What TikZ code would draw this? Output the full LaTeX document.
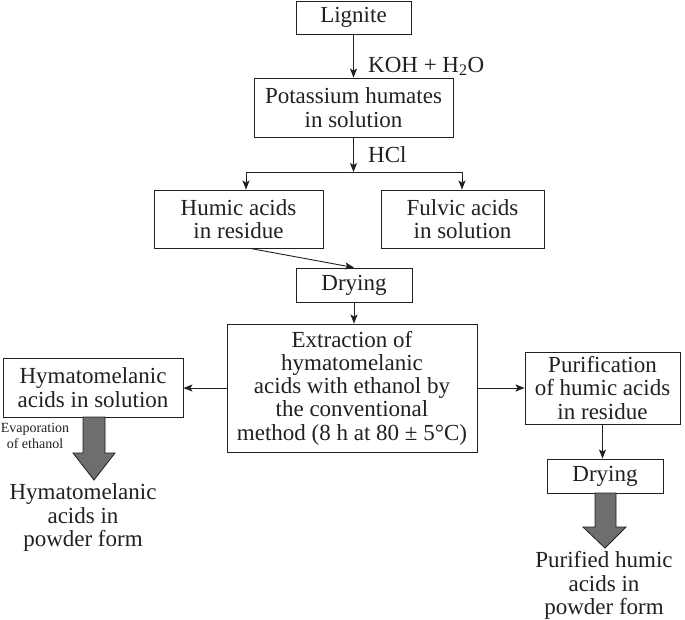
\documentclass[tikz,border=0pt]{standalone}
\usepackage{fontspec}
\setmainfont{Liberation Serif}
\usetikzlibrary{arrows.meta,calc}
\definecolor{ink}{HTML}{231F20}
\definecolor{blockgray}{HTML}{6E6E6E}
\begin{document}
\begin{tikzpicture}[x=1pt,y=-1pt,
  every node/.style={text=ink},
  box/.style={draw=ink,line width=0.9pt,inner sep=0pt,align=center,
    font=\fontsize{23}{23.3}\selectfont},
  conn/.style={draw=ink,line width=0.9pt,-{Stealth[length=9pt,width=7pt,inset=2pt]}},
  plain/.style={draw=ink,line width=0.9pt},
  blockarrow/.style={draw=ink,line width=0.8pt,fill=blockgray,line join=miter},
  lbl/.style={font=\fontsize{23}{23.3}\selectfont,inner sep=0pt},
  small/.style={font=\fontsize{14}{16}\selectfont,inner sep=0pt,align=center},
  freetext/.style={font=\fontsize{23}{23.3}\selectfont,inner sep=0pt,align=center}]
\useasboundingbox (0,0) rectangle (685,619);

\node[box,minimum width=115pt,minimum height=33pt] (lig) at (353.5,17.5) {Lignite};
\node[box,minimum width=199pt,minimum height=59pt] (pot) at (353.5,107.5) {Potassium humates\\in solution};
\node[box,minimum width=169pt,minimum height=58pt] (hum) at (238.5,219) {Humic acids\\in residue};
\node[box,minimum width=163pt,minimum height=58pt] (ful) at (462.5,219) {Fulvic acids\\in solution};
\node[box,minimum width=116pt,minimum height=34pt] (dry1) at (354,285) {Drying};
\node[box,minimum width=250pt,minimum height=128pt] (ext) at (352,388) {Extraction of\\hymatomelanic\\acids with ethanol by\\the conventional\\method (8 h at 80 ± 5°C)};
\node[box,minimum width=180pt,minimum height=59pt] (hym) at (93,387.5) {Hymatomelanic\\acids in solution};
\node[box,minimum width=155pt,minimum height=72pt] (pur) at (602.5,388) {Purification\\of humic acids\\in residue};
\node[box,minimum width=116pt,minimum height=34pt] (dry2) at (605,476) {Drying};

\node[lbl,anchor=base west] (koh) at (368,72) {KOH + H\textsubscript{2}O};
\node[lbl,anchor=base west] (hcl) at (368,162) {HCl};
\node[small] (evap) at (35,435.5) {Evaporation\\of ethanol};
\node[freetext] (hymp) at (83,517.5) {Hymatomelanic\\acids in\\powder form};
\node[freetext] (purp) at (604,585.5) {Purified humic\\acids in\\powder form};

\coordinate (split) at (353.5,172);
\coordinate (splitL) at (246,172);
\coordinate (splitR) at (462,172);

\draw[conn] (lig.south) -- (pot.north);
\draw[conn] (pot.south) -- (split);
\draw[plain] (splitL) -- (splitR);
\draw[conn] (splitL) -- (splitL |- hum.north);
\draw[conn] (splitR) -- (splitR |- ful.north);
\draw[conn] ($(hum.south west)!0.57!(hum.south east)$) -- (dry1.north);
\draw[conn] (dry1.south) -- (dry1.south |- ext.north);
\draw[conn] (ext.west) -- (ext.west -| hym.east);
\draw[conn] (ext.east) -- (ext.east -| pur.west);
\draw[conn] (pur.south) -- (pur.south |- dry2.north);

\draw[blockarrow] (83,417) -- (83,453) -- (73,453) -- (94,480) -- (115,453) -- (105,453) -- (105,417) -- cycle;
\draw[blockarrow] (595,493) -- (595,527) -- (583,527) -- (605,548) -- (626,527) -- (616,527) -- (616,493) -- cycle;
\end{tikzpicture}
\end{document}
